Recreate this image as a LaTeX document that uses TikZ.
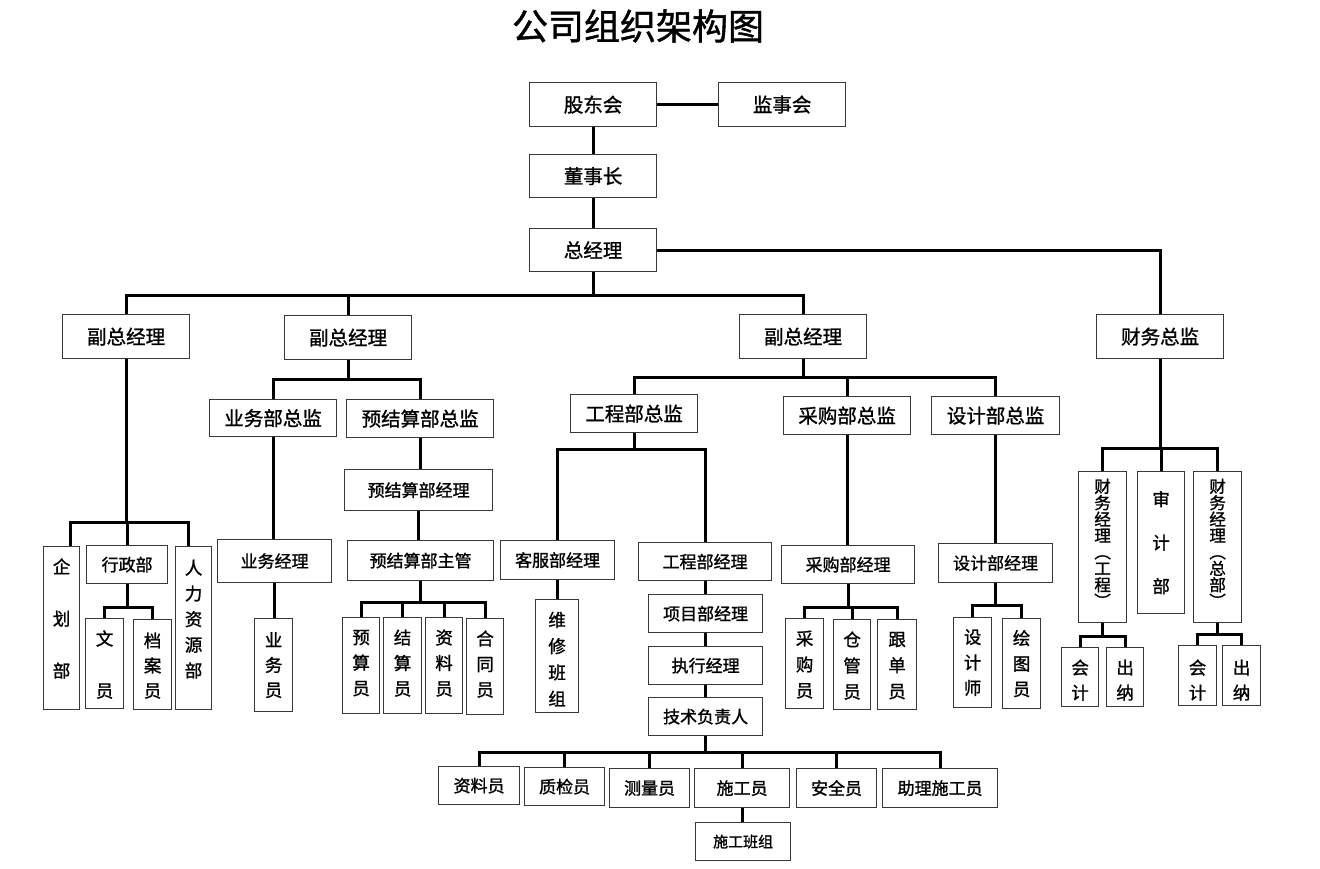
\documentclass[tikz,border=0pt]{standalone}
\usepackage{fontspec}
\setmainfont{Noto Sans CJK SC}[FakeBold=1.2,AutoFakeBold=1.2]
\newcommand\horbox[7]{\node[box,#6,anchor=north west,minimum width={(#4-#2)*1pt},minimum height={(#5-#3)*1pt}] (#1) at (#2,#3) {#7};}
\newcommand\vertbox[9]{\node[box,anchor=north west,minimum width={(#4-#2)*1pt},minimum height={(#5-#3)*1pt},label={[font=\fontsize{#6pt}{#7pt}\selectfont\bfseries,align=center,inner sep=0pt,yshift=#8pt]center:{#9}}] (#1) at (#2,#3) {};}
\begin{document}
\begin{tikzpicture}[x=1pt,y=-1pt,
 box/.style={draw=black!78,line width=1.2pt,inner sep=0pt,fill=white,text=black},
 big/.style={font=\fontsize{19.5pt}{21pt}\selectfont\bfseries},
 mid/.style={font=\fontsize{17pt}{18pt}\selectfont\bfseries},
 sml/.style={font=\fontsize{15pt}{16pt}\selectfont\bfseries},
 conn/.style={line width=3pt,black,line join=miter}]
\useasboundingbox (0,0) rectangle (1320,868);
\fill[white] (0,0) rectangle (1320,868);
\node[font=\fontsize{36pt}{38pt}\selectfont\bfseries] (title) at (638,26) {公司组织架构图};
% top
\horbox{gdh}{529}{82}{656}{126}{big}{股东会}
\horbox{jsh}{718}{82}{845}{126}{big}{监事会}
\horbox{dsz}{529}{154}{656}{197}{big}{董事长}
\horbox{zjl}{529}{228}{656}{271}{big}{总经理}
\horbox{fz1}{62}{314}{189}{358}{big}{副总经理}
\horbox{fz2}{284}{315}{411}{359}{big}{副总经理}
\horbox{fz3}{739}{314}{866}{358}{big}{副总经理}
\horbox{cwzj}{1096}{314}{1223}{358}{big}{财务总监}
% left branch
\vertbox{qh}{43}{546}{79}{709}{17.5}{52}{9.5}{企\\划\\部}
\horbox{xz}{86}{545}{167}{583}{mid}{行政部}
\vertbox{rl}{175}{546}{211}{709}{17.5}{25.7}{9}{人\\力\\资\\源\\部}
\vertbox{wy}{85}{618}{123}{708}{17.5}{52}{-1}{文\\员}
\vertbox{da}{133}{619}{171}{709}{17.5}{25}{-1}{档\\案\\员}
% second branch
\horbox{ywzj}{209}{399}{336}{436}{big}{业务部总监}
\horbox{yjzj}{346}{399}{493}{437}{big}{预结算部总监}
\horbox{ywjl}{217}{539}{331}{582}{mid}{业务经理}
\vertbox{ywy}{254}{618}{292}{711}{17.5}{25}{0}{业\\务\\员}
\horbox{yjjl}{344}{469}{492}{510}{mid}{预结算部经理}
\horbox{yjzg}{347}{540}{493}{580}{mid}{预结算部主管}
\vertbox{ysy}{342}{617}{379}{713}{17.5}{25.5}{2.5}{预\\算\\员}
\vertbox{jsy}{383}{617}{421}{713}{17.5}{25.5}{2.5}{结\\算\\员}
\vertbox{zly}{425}{617}{462}{713}{17.5}{25.5}{2.5}{资\\料\\员}
\vertbox{hty}{466}{618}{503}{714}{17.5}{25.5}{2.5}{合\\同\\员}
% third branch
\horbox{gczj}{570}{394}{697}{432}{big}{工程部总监}
\horbox{cgzj}{783}{396}{910}{434}{big}{采购部总监}
\horbox{sjzj}{931}{396}{1059}{434}{big}{设计部总监}
\horbox{kf}{500}{540}{614}{579}{mid}{客服部经理}
\vertbox{wx}{535}{599}{578}{712}{17.5}{26.3}{-3}{维\\修\\班\\组}
\horbox{gcjl}{638}{542}{771}{580}{mid}{工程部经理}
\horbox{xmjl}{648}{594}{762}{632}{mid}{项目部经理}
\horbox{zxjl}{648}{646}{762}{684}{mid}{执行经理}
\horbox{jsfz}{648}{697}{762}{735}{mid}{技术负责人}
\horbox{za}{438}{766}{519}{804}{mid}{资料员}
\horbox{zb}{524}{767}{604}{805}{mid}{质检员}
\horbox{zc}{609}{768}{689}{807}{mid}{测量员}
\horbox{zd}{694}{768}{789}{807}{mid}{施工员}
\horbox{ze}{796}{768}{876}{807}{mid}{安全员}
\horbox{zf}{882}{768}{997}{807}{mid}{助理施工员}
\horbox{sgbz}{695}{822}{790}{860}{sml}{施工班组}
\horbox{cgjl}{781}{545}{914}{583}{mid}{采购部经理}
\horbox{sjjl}{938}{543}{1052}{582}{mid}{设计部经理}
\vertbox{cgy}{785}{618}{823}{708}{17.5}{26}{-1}{采\\购\\员}
\vertbox{cgy2}{833}{619}{870}{709}{17.5}{26}{-1}{仓\\管\\员}
\vertbox{gdy}{877}{619}{916}{709}{17.5}{26}{-1}{跟\\单\\员}
\vertbox{sjs}{953}{617}{991}{707}{17.5}{25.5}{0}{设\\计\\师}
\vertbox{htu}{1002}{618}{1040}{708}{17.5}{25.5}{0}{绘\\图\\员}
% finance
\vertbox{cwgc}{1078}{471}{1126}{622}{16.5}{16.4}{4}{财\\务\\经\\理\\︵\\工\\程\\︶}
\vertbox{sjb}{1137}{471}{1184}{613}{17.5}{43.5}{0}{审\\计\\部}
\vertbox{cwzb}{1193}{471}{1241}{622}{16.5}{16.4}{4}{财\\务\\经\\理\\︵\\总\\部\\︶}
\vertbox{kja}{1061}{647}{1098}{706}{17.5}{25}{-3}{会\\计}
\vertbox{cna}{1106}{647}{1143}{706}{17.5}{25}{-3}{出\\纳}
\vertbox{kjb}{1178}{645}{1216}{705}{17.5}{25}{-4.5}{会\\计}
\vertbox{cnb}{1222}{645}{1260}{705}{17.5}{25}{-4.5}{出\\纳}
% bus levels
\coordinate (b0) at (0,295);
\coordinate (b1) at (0,522);
\coordinate (b2) at (0,607);
\coordinate (b3) at (0,379);
\coordinate (b4) at (0,602);
\coordinate (b5) at (0,377);
\coordinate (b6) at (0,449);
\coordinate (b7) at (0,752);
\coordinate (b8) at (0,607);
\coordinate (b9) at (0,605);
\coordinate (b10) at (0,448);
\coordinate (b11) at (0,636);
\coordinate (b12) at (0,634);
% connectors top
\draw[conn] (gdh.east) -- (jsh.west);
\draw[conn] (gdh.south) -- (dsz.north);
\draw[conn] (dsz.south) -- (zjl.north);
\draw[conn] (zjl.east) -| (cwzj.north);
\draw[conn] (zjl.south) -- (zjl.south |- b0);
\draw[conn] (fz1.north) |- (fz3.north |- b0) -- (fz3.north);
\draw[conn] (fz2.north) -- (fz2.north |- b0);
% left
\coordinate (q1) at ([xshift=9pt]qh.north);
\coordinate (r1) at ([xshift=-5pt]rl.north);
\draw[conn] (fz1.south) -- (fz1.south |- b1);
\draw[conn] (q1) |- (r1 |- b1) -- (r1);
\draw[conn] (xz.north) -- (xz.north |- b1);
\draw[conn] (xz.south) -- (xz.south |- b2);
\draw[conn] (wy.north) |- (da.north |- b2) -- (da.north);
% second
\draw[conn] (fz2.south) -- (fz2.south |- b3);
\draw[conn] (ywzj.north) |- (yjzj.north |- b3) -- (yjzj.north);
\draw[conn] (ywzj.south) -- (ywzj.south |- ywjl.north);
\draw[conn] (ywjl.south) -- (ywjl.south |- ywy.north);
\draw[conn] (yjzj.south) -- (yjzj.south |- yjjl.north);
\draw[conn] (yjjl.south) -- (yjjl.south |- yjzg.north);
\draw[conn] (yjzg.south) -- (yjzg.south |- b4);
\draw[conn] (ysy.north) |- (hty.north |- b4) -- (hty.north);
\draw[conn] (jsy.north) -- (jsy.north |- b4);
\draw[conn] (zly.north) -- (zly.north |- b4);
% third
\draw[conn] (fz3.south) -- (fz3.south |- b5);
\draw[conn] (gczj.north) |- (sjzj.north |- b5) -- (sjzj.north);
\draw[conn] (cgzj.north) -- (cgzj.north |- b5);
\draw[conn] (gczj.south) -- (gczj.south |- b6);
\draw[conn] (kf.north) |- (gcjl.north |- b6) -- (gcjl.north);
\draw[conn] (kf.south) -- (kf.south |- wx.north);
\draw[conn] (gcjl.south) -- (gcjl.south |- xmjl.north);
\draw[conn] (xmjl.south) -- (xmjl.south |- zxjl.north);
\draw[conn] (zxjl.south) -- (zxjl.south |- jsfz.north);
\draw[conn] (jsfz.south) -- (jsfz.south |- b7);
\draw[conn] (za.north) |- (zf.north |- b7) -- (zf.north);
\draw[conn] (zb.north) -- (zb.north |- b7);
\draw[conn] (zc.north) -- (zc.north |- b7);
\draw[conn] (zd.north) -- (zd.north |- b7);
\draw[conn] (ze.north) -- (ze.north |- b7);
\draw[conn] (zd.south) -- (zd.south |- sgbz.north);
\draw[conn] (cgzj.south) -- (cgzj.south |- cgjl.north);
\draw[conn] (cgjl.south) -- (cgjl.south |- b8);
\draw[conn] (cgy.north) |- (gdy.north |- b8) -- (gdy.north);
\draw[conn] (cgy2.north) -- (cgy2.north |- b8);
\draw[conn] (sjzj.south) -- (sjzj.south |- sjjl.north);
\draw[conn] (sjjl.south) -- (sjjl.south |- b9);
\draw[conn] (sjs.north) |- (htu.north |- b9) -- (htu.north);
% finance
\draw[conn] (cwzj.south) -- (cwzj.south |- b10);
\draw[conn] (cwgc.north) |- (cwzb.north |- b10) -- (cwzb.north);
\draw[conn] (sjb.north) -- (sjb.north |- b10);
\draw[conn] (cwgc.south) -- (cwgc.south |- b11);
\draw[conn] (kja.north) |- (cna.north |- b11) -- (cna.north);
\draw[conn] (cwzb.south) -- (cwzb.south |- b12);
\draw[conn] (kjb.north) |- (cnb.north |- b12) -- (cnb.north);
\end{tikzpicture}
\end{document}
